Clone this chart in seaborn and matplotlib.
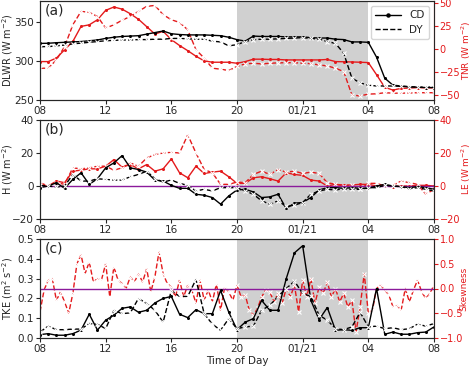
import numpy as np
import pandas as pd
import matplotlib
matplotlib.use("Agg")
import matplotlib.pyplot as plt
from matplotlib.lines import Line2D
import seaborn as sns

# ---------------- data ----------------
hours = np.arange(0, 24.5, 0.5)          # 08:00 -> 08:00 next day, 30 min
hours_sk = np.arange(0, 24.25, 0.25)     # 15 min for skewness

xtick_pos = [0, 4, 8, 12, 16, 20, 24]
xtick_labels = ['08', '12', '16', '20', '01/21', '04', '08']

dlwr_cd = [322.6, 322.8, 323.5, 324, 324.5, 325, 326, 327, 329, 330.5, 331.5, 332, 332.5,
           334.5, 336.5, 338.5, 335, 334, 333.5, 333.5, 333.5, 333, 332.5, 330.5, 327.4,
           325.6, 332, 331.5, 331.5, 331.5, 331, 331, 331, 330, 329.5, 329.5, 328, 327.5,
           324.5, 324.5, 324, 305, 278, 269, 268, 267, 266.5, 266, 266]
dlwr_dy = [318.4, 318.5, 319.5, 320.5, 322, 323, 324, 325, 326, 326.5, 327, 327, 327.5,
           327.5, 328, 328, 329, 329, 328.5, 328, 328, 325.5, 324.5, 319.5, 321, 325,
           327.5, 328, 328, 328.5, 329, 329.5, 330, 329, 328, 325, 322.6, 310, 278, 272,
           269, 268, 268, 268, 267.5, 267, 266.5, 266.5, 266.5]
tnr_cd = [-13.8, -13.8, -10, -1, 8, 24.3, 26, 31.5, 41.7, 45.3, 43, 38, 32, 24, 16, 19, 10,
          3.6, -2, -8, -13, -14.5, -14.5, -14.5, -15.6, -13.8, -11.2, -11.2, -11.5, -11.5,
          -12, -12, -12, -12, -12, -11.5, -13.8, -14, -14.2, -14.5, -14.9, -28, -41.7,
          -44.6, -42.8, -42.5, -42, -42.3, -42.3]
tnr_dy = [-21, -21, -12, 2.5, 26, 40.6, 39.5, 35, 22.5, 26, 31, 35, 40.6, 46, 47, 37, 31.5,
          28.6, 20.6, -1, -10, -21, -22, -23.5, -19, -16.3, -15.6, -16.3, -15.6, -15.2,
          -15, -15, -15.6, -16, -17.4, -18.5, -21, -24.6, -50, -51, -49, -48.7, -47.5,
          -48, -48, -47.8, -47.5, -47.5, -47.5]

h_cd = [-1, 0, 2, -1.4, 4, 8, 1, 4.4, 11, 14, 18.4, 11, 10, 8.4, 3.6, 3, 0.4, -1.4, -1.4,
        -5, -5.6, -7, -11, -6, -2.4, -2, -3.6, -7, -6.6, -5, -13.6, -10.4, -10, -7, -2.4,
        -1, -1, -1.4, -1, -1.4, -1.4, 0, 1, 0, -0.4, -1, -0.4, -1, -2]
h_dy = [0.4, 0, -0.6, 0, 7, 3, 3, 4.4, 4, 3.6, 3.6, 5.6, 7, 9, 4.4, 2.4, 3.6, 1.6, 0.4, -3,
        -2, -3, -1, -1, -1, -3, -5, -9, -11, -9, -12.4, -11.6, -10, -5, -3, -2, -2.4,
        -1.6, -2, -2, -1, -1, 0.4, 0, -0.4, -1.6, -1, -2, -3]
le_cd = [1, 0, 3, 2, 9, 9.6, 10.4, 10.4, 12, 16, 11.4, 13, 10.4, 13, 9, 10.4, 16.4, 8, 5,
         12, 7.6, 8.4, 9, 5.6, 1.6, 1.6, 5, 5.6, 4.4, 3, 8, 7, 6.4, 3.6, 3, 0, 1, 0.6, 0.6,
         1, 1, 0, 0, -0.4, 0, 0, 0.4, 0.4, 0]
le_dy = [2, 0, 2, 1, 11, 10.4, 11, 12, 12, 9.6, 11, 14, 12, 17, 19, 20, 20.4, 20, 31, 20,
         10, 8, 1, 1, 2.4, 2, 7, 9, 7, 10, 8.4, 9, 7.6, 8.4, 7.6, 2, 1, 0, 0.4, -2, 1.6,
         1.6, 0, 0.4, 3, 2, 1, -5, -2]

tke_cd = [0.017, 0.022, 0.014, 0.014, 0.022, 0.04, 0.12, 0.04, 0.09, 0.115, 0.15, 0.157,
          0.13, 0.14, 0.177, 0.2, 0.21, 0.12, 0.103, 0.143, 0.123, 0.123, 0.24, 0.13, 0.042,
          0.08, 0.098, 0.19, 0.14, 0.14, 0.3, 0.43, 0.466, 0.19, 0.093, 0.154, 0.039, 0.042,
          0.039, 0.052, 0.052, 0.25, 0.019, 0.03, 0.019, 0.019, 0.027, 0.03, 0.056]
tke_dy = [0.03, 0.06, 0.042, 0.042, 0.045, 0.045, 0.073, 0.07, 0.047, 0.14, 0.123, 0.127,
          0.2, 0.174, 0.14, 0.08, 0.24, 0.21, 0.21, 0.296, 0.123, 0.07, 0.039, 0.098, 0.047,
          0.056, 0.06, 0.14, 0.165, 0.21, 0.25, 0.287, 0.225, 0.21, 0.115, 0.09, 0.047,
          0.042, 0.056, 0.13, 0.056, 0.06, 0.047, 0.052, 0.042, 0.047, 0.07, 0.06, 0.073]
skew = [-0.47, -0.03, 0.17, 0.2, -0.24, -0.07, -0.27, -0.5, -0.1, 0.5, 0.68, 0.3, 0.54,
        0.13, 0.2, 0.18, 0.5, -0.17, 0.44, 0.17, 0.1, 0, 0.24, 0.13, 0.3, 0.13, 0.4, -0.07,
        0.24, 0.74, 0.3, 0.1, 0.03, -0.17, 0.17, -0.17, 0.07, -0.03, -0.3, 0.17, -0.24,
        -0.03, -0.27, 0.1, -0.44, 0.03, -0.07, -0.24, 0.07,
        -0.17, -0.13, -0.44, -0.54, -0.4, -0.17, -0.03, -0.07, -0.27, -0.1, -0.3, 0, -0.17,
        0.07, -0.47, 0.17, -0.17, 0.2, -0.3, 0.03, -0.1, 0.13, -0.17, 0, -0.27, -0.1, -0.37,
        -0.24, -0.88, -0.37, 0.3, -0.5, -0.44, 0, 0.07, -0.03, -0.13, -0.37, -0.34, -0.44,
        0, -0.27, -0.03, 0.17, -0.07, -0.2, -0.1, 0.07]

# ---------------- style ----------------
sns.set_style("ticks")
plt.rcParams['font.family'] = ['DejaVu Sans']
FS = 7.5
LFS = 7
RFS = 6.5
RED = '#e41a1c'
PURPLE = '#8b1a9b'
GRAY = '#d0d0d0'

fig = plt.figure(figsize=(4.74, 3.66), dpi=100)
L, W, H = 40 / 474, 394 / 474, 99 / 366
bottoms = [1 - 100 / 366, 1 - 219 / 366, 1 - 338 / 366]
axes = [fig.add_axes([L, b, W, H]) for b in bottoms]


def draw(ax, x, y, color, dashed):
    if dashed:
        sns.lineplot(x=x, y=y, ax=ax, color=color, linestyle='--', marker='x',
                     markersize=2.2, markeredgewidth=0.8, linewidth=1.0)
    else:
        sns.lineplot(x=x, y=y, ax=ax, color=color, linestyle='-', marker='o',
                     markersize=2.2, markeredgewidth=0, linewidth=1.0)


twins = []
for ax in axes:
    ax.set_xlim(0, 24)
    ax.set_xticks(xtick_pos)
    ax.set_xticklabels(xtick_labels)
    ax.tick_params(labelsize=FS, length=3, pad=1.5)
    t = ax.twinx()
    t.axvspan(12, 20, color=GRAY, zorder=0, lw=0)
    t.tick_params(axis='y', colors=RED, labelsize=7, length=3, pad=1)
    t.spines['right'].set_color(RED)
    twins.append(t)
    ax.set_zorder(2)
    ax.patch.set_visible(False)
    t.set_zorder(1)

# panel a
ax, t = axes[0], twins[0]
draw(ax, hours, dlwr_cd, 'black', False)
draw(ax, hours, dlwr_dy, 'black', True)
draw(t, hours, tnr_cd, RED, False)
draw(t, hours, tnr_dy, RED, True)
ax.set_ylim(250, 377)
ax.set_yticks([250, 300, 350])
t.set_ylim(-55.4, 51.8)
t.set_yticks([-50, -25, 0, 25, 50])
ax.set_ylabel('DLWR (W m$^{-2}$)', fontsize=LFS)
t.set_ylabel('TNR (W m$^{-2}$)', fontsize=RFS, color=RED)
handles = [Line2D([], [], color='black', lw=1.0, marker='o', markersize=2.2),
           Line2D([], [], color='black', lw=1.0, linestyle='--')]
ax.legend(handles, ['CD', 'DY'], loc='upper right', fontsize=FS, frameon=True,
          handlelength=2.5, borderpad=0.4, labelspacing=0.4, fancybox=True)

# panel b
ax, t = axes[1], twins[1]
draw(ax, hours, h_cd, 'black', False)
draw(ax, hours, h_dy, 'black', True)
draw(t, hours, le_cd, RED, False)
draw(t, hours, le_dy, RED, True)
ax.axhline(0, color=PURPLE, lw=1.0, zorder=1)
ax.set_ylim(-20, 40)
ax.set_yticks([-20, 0, 20, 40])
t.set_ylim(-20, 40)
t.set_yticks([-20, 0, 20, 40])
ax.set_ylabel('H (W m$^{-2}$)', fontsize=LFS)
t.set_ylabel('LE (W m$^{-2}$)', fontsize=RFS, color=RED)

# panel c
ax, t = axes[2], twins[2]
draw(ax, hours, tke_cd, 'black', False)
draw(ax, hours, tke_dy, 'black', True)
draw(t, hours_sk, skew, RED, True)
t.axhline(0, color=PURPLE, lw=1.0, zorder=3)
ax.set_ylim(0, 0.5)
ax.set_yticks([0.0, 0.1, 0.2, 0.3, 0.4, 0.5])
t.set_ylim(-1, 1)
t.set_yticks([-1.0, -0.5, 0.0, 0.5, 1.0])
ax.set_ylabel('TKE (m$^2$ s$^{-2}$)', fontsize=LFS)
t.set_ylabel('Skewness', fontsize=RFS, color=RED)
ax.set_xlabel('Time of Day', fontsize=FS, labelpad=1)

for ax, t in zip(axes, twins):
    ax.yaxis.set_label_coords(-0.064, 0.5)
    t.yaxis.set_label_coords(1.065, 0.5)

for ax, lab in zip(axes, ['(a)', '(b)', '(c)']):
    ax.text(0.012, 0.97, lab, transform=ax.transAxes, fontsize=10, va='top', ha='left')

fig.savefig('out.png', dpi=100)
